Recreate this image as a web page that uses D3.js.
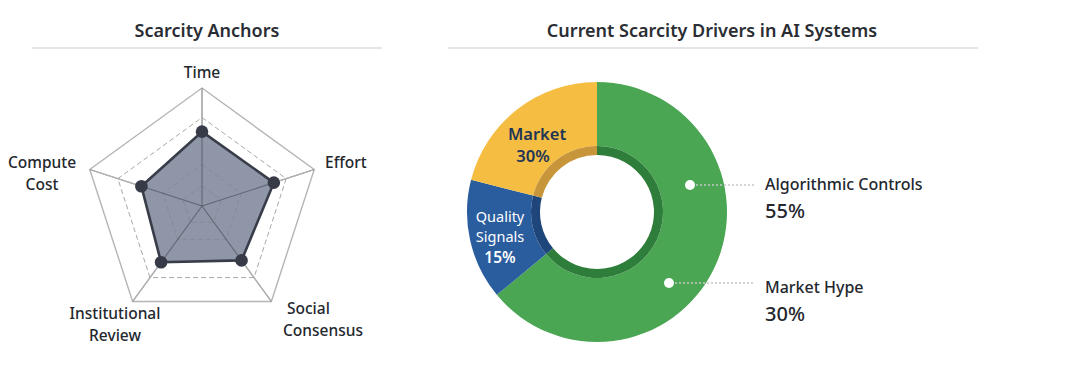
<!DOCTYPE html>
<html>
<head>
<meta charset="utf-8">
<script src="https://cdn.jsdelivr.net/npm/d3@7"></script>
<style>
  body { margin: 0; background: #fff; }
  svg { display: block; font-family: "Noto Sans", sans-serif; }
</style>
</head>
<body>
<div id="chart"></div>
<script>
// radar data (0-10 scale)
const anchors = ["Time", "Effort", "Social Consensus", "Institutional Review", "Compute Cost"];
const anchorValues = [6.3, 6.4, 5.7, 5.9, 5.4];
const ringLevels = [1.7, 3.5, 7.5, 10];

// donut data: arc shares as drawn, and the printed labels
const drivers = ["Algorithmic Controls", "Quality Signals", "Market"];
const driverShares = [64, 15, 21];
const driverLabels = ["55%", "15%", "30%"];
const calloutNames = ["Algorithmic Controls", "Market Hype"];
const calloutLabels = ["55%", "30%"];

const W = 1080, H = 373;
const svg = d3.select("#chart").append("svg")
  .attr("width", W).attr("height", H);

// ---------- titles ----------
function panelTitle(cx, x1, x2, txt) {
  svg.append("text")
    .attr("x", cx).attr("y", 37)
    .attr("text-anchor", "middle")
    .style("font-size", "18px").style("font-weight", 600)
    .attr("fill", "#2a2d33")
    .text(txt);
  svg.append("line")
    .attr("x1", x1).attr("x2", x2).attr("y1", 48).attr("y2", 48)
    .attr("stroke", "#dcdcdc").attr("stroke-width", 1.5);
}
panelTitle(207, 32, 382, "Scarcity Anchors");
panelTitle(712, 448, 978, "Current Scarcity Drivers in AI Systems");

// ---------- radar ----------
const rc = {x: 202, y: 206}, R = 118;
const r = d3.scaleLinear().domain([0, 10]).range([0, R]);
const ang = d3.scalePoint().domain(anchors).range([0, 2 * Math.PI * 4 / 5]);
const pt = (name, v) => [rc.x + r(v) * Math.sin(ang(name)), rc.y - r(v) * Math.cos(ang(name))];
const radar = svg.append("g");

ringLevels.forEach((lv, i) => {
  const outer = i === ringLevels.length - 1;
  radar.append("polygon")
    .attr("points", anchors.map(a => pt(a, lv).join(",")).join(" "))
    .attr("fill", "none")
    .attr("stroke", outer ? "#b5b5b5" : "#a8a8a8")
    .attr("stroke-width", outer ? 1.4 : 1)
    .attr("stroke-dasharray", outer ? null : "5,3");
});

radar.append("polygon")
  .attr("points", anchors.map((a, i) => pt(a, anchorValues[i]).join(",")).join(" "))
  .attr("fill", "#7b8498").attr("fill-opacity", 0.85)
  .attr("stroke", "#383d49").attr("stroke-width", 2.6)
  .attr("stroke-linejoin", "round");

anchors.forEach(a => {
  const [x, y] = pt(a, 10);
  radar.append("line")
    .attr("x1", rc.x).attr("y1", rc.y).attr("x2", x).attr("y2", y)
    .attr("stroke", "#555b66").attr("stroke-opacity", 0.8).attr("stroke-width", 1.1);
});
// outer spokes look lighter outside the filled area
anchors.forEach((a, i) => {
  const [x0, y0] = pt(a, anchorValues[i]);
  const [x, y] = pt(a, 10);
  radar.append("line")
    .attr("x1", x0).attr("y1", y0).attr("x2", x).attr("y2", y)
    .attr("stroke", "#b5b5b5").attr("stroke-width", 1.2);
});

anchors.forEach((a, i) => {
  const [x, y] = pt(a, anchorValues[i]);
  radar.append("circle").attr("cx", x).attr("cy", y).attr("r", 6.3)
    .attr("fill", "#363b47");
});

const radarLabels = [
  {lines: ["Time"], x: 202, y: 78, anchor: "middle"},
  {lines: ["Effort"], x: 325, y: 168, anchor: "start"},
  {lines: ["Social", "Consensus"], x: 286, y: 314, anchor: "start", dx: [1, -3]},
  {lines: ["Institutional", "Review"], x: 115, y: 319, anchor: "middle"},
  {lines: ["Compute", "Cost"], x: 42, y: 168, anchor: "middle"}
];
radarLabels.forEach(l => {
  const t = radar.append("text")
    .attr("text-anchor", l.anchor)
    .style("font-size", "15.5px").style("font-weight", 500).attr("fill", "#24272d");
  l.lines.forEach((s, k) => {
    t.append("tspan").attr("x", l.x + (l.dx ? l.dx[k] : 0)).attr("y", l.y + k * 22).text(s);
  });
});

// ---------- donut ----------
const dc = {x: 597, y: 212}, Ro = 130, Ri = 57, band = 9;
const colors = ["#4aa653", "#2a5d9e", "#f5bd42"];
const darker = ["#2e7d3a", "#1f467a", "#c7953a"];
const pie = d3.pie().sort(null).value(d => d).startAngle(0).endAngle(2 * Math.PI);
const arcs = pie(driverShares);
const outerArc = d3.arc().innerRadius(Ri + band).outerRadius(Ro);
const innerArc = d3.arc().innerRadius(Ri).outerRadius(Ri + band);
const donut = svg.append("g").attr("transform", `translate(${dc.x},${dc.y})`);

donut.selectAll("path.slice").data(arcs).enter().append("path")
  .attr("class", "slice")
  .attr("d", outerArc)
  .attr("fill", (d, i) => colors[i]);
donut.selectAll("path.band").data(arcs).enter().append("path")
  .attr("class", "band")
  .attr("d", innerArc)
  .attr("fill", (d, i) => darker[i]);

// in-slice labels
const mk = donut.append("text").attr("text-anchor", "middle")
  .attr("fill", "#1e3656").style("font-size", "16.5px").style("font-weight", 600);
mk.append("tspan").attr("x", -60).attr("y", -72).text(drivers[2]);
mk.append("tspan").attr("x", -64).attr("y", -50).text(driverLabels[2]);

const qs = donut.append("text").attr("text-anchor", "middle")
  .attr("fill", "#fff").style("font-size", "14.5px");
qs.append("tspan").attr("x", -97).attr("y", 10).text("Quality");
qs.append("tspan").attr("x", -97).attr("y", 30).text("Signals");
qs.append("tspan").attr("x", -97).attr("y", 51).style("font-weight", 600)
  .style("font-size", "15.5px").text(driverLabels[1]);

// callouts from the green slice
const callouts = [
  {dot: [93, -27], lineEnd: 158, ty: 190},
  {dot: [72, 71], lineEnd: 158, ty: 293}
];
callouts.forEach((c, i) => {
  donut.append("line")
    .attr("x1", c.dot[0] + 6).attr("y1", c.dot[1])
    .attr("x2", c.lineEnd).attr("y2", c.dot[1])
    .attr("stroke", "#c8c8c8").attr("stroke-width", 1.5)
    .attr("stroke-dasharray", "2,2");
  donut.append("circle").attr("cx", c.dot[0]).attr("cy", c.dot[1]).attr("r", 5)
    .attr("fill", "#fff");
  svg.append("text").attr("x", 765).attr("y", c.ty)
    .attr("fill", "#24272d").style("font-size", "16px").style("font-weight", 500)
    .text(calloutNames[i]);
  svg.append("text").attr("x", 765).attr("y", c.ty + 28)
    .attr("fill", "#24272d").style("font-size", "20px").style("font-weight", 500)
    .text(calloutLabels[i]);
});
</script>
</body>
</html>
